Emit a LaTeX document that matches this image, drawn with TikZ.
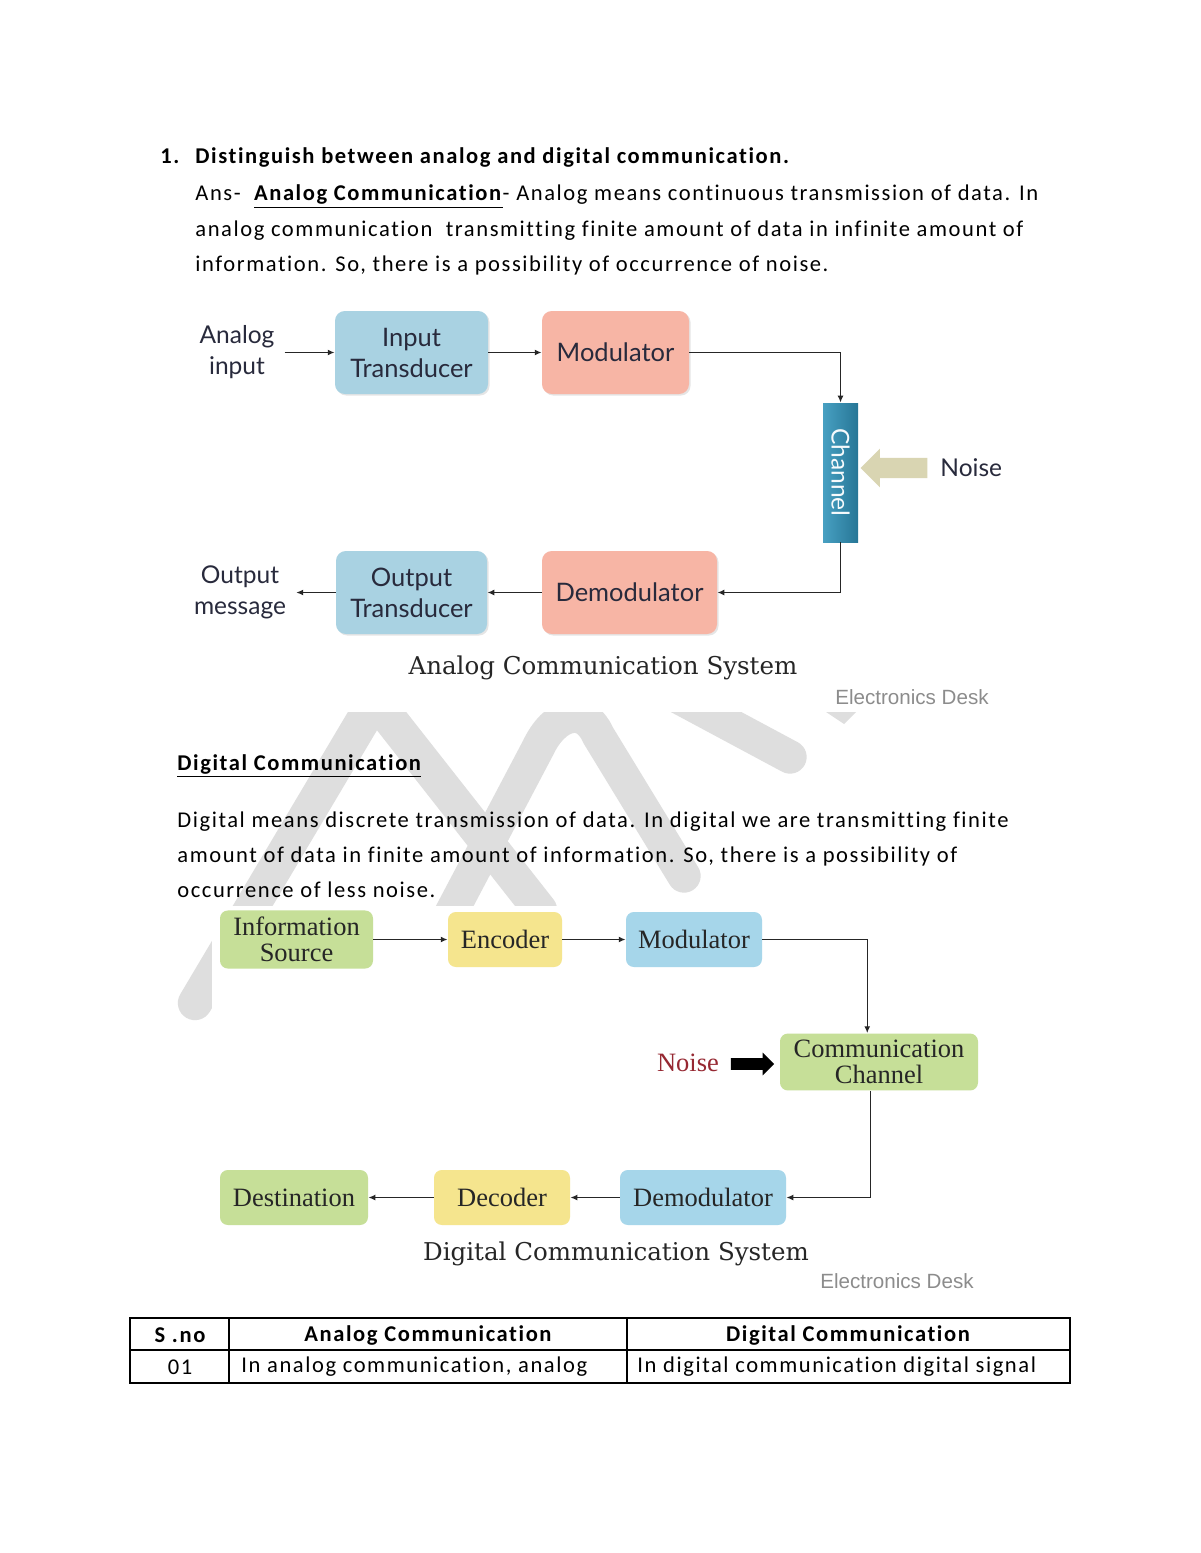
\documentclass[tikz,border=0pt]{standalone}
\usepackage{fontspec}
\setmainfont{Carlito}[LetterSpace=7, Ligatures=NoCommon]
\newfontfamily\gillfont{Lato}
\newfontfamily\cambfont{Liberation Serif}
\newfontfamily\slabfont{DejaVu Serif}
\newfontfamily\arialfont{Liberation Sans}
\usepackage{tikz}
\usetikzlibrary{shapes.arrows, arrows.meta, positioning, calc, shadows}
\definecolor{navytext}{RGB}{40,42,60}
\definecolor{tdblue}{RGB}{169,210,226}
\definecolor{salmon}{RGB}{247,181,165}
\definecolor{chanlight}{RGB}{72,160,194}
\definecolor{chandark}{RGB}{38,118,150}
\definecolor{noisebeige}{RGB}{217,213,178}
\definecolor{srcgreen}{RGB}{198,223,152}
\definecolor{encyellow}{RGB}{245,229,142}
\definecolor{modblue}{RGB}{166,214,234}
\definecolor{noisered}{RGB}{150,40,50}
\definecolor{deskgray}{RGB}{140,140,140}
\definecolor{wmgray}{RGB}{222,222,222}
\newcommand{\px}{0.51pt}

\begin{document}
\begin{tikzpicture}[x=0.51pt, y=-0.51pt,
    txt/.style={inner sep=0pt, anchor=base west, font=\fontsize{11.5}{13}\selectfont},
    abox/.style={rectangle, rounded corners=5pt, align=center, text=navytext,
      font=\gillfont\fontsize{13}{15.8}\selectfont, minimum height=83*\px,
      drop shadow={opacity=0.2, shadow xshift=0.8pt, shadow yshift=-0.8pt}},
    alabel/.style={align=center, text=navytext, font=\gillfont\fontsize{12.5}{15.8}\selectfont, inner sep=5pt},
    dbox/.style={rectangle, rounded corners=4pt, align=center, text=black!85,
      font=\cambfont\fontsize{13.5}{13.3}\selectfont, minimum height=55*\px},
    arrow/.style={-{Latex[length=3.5pt,width=3pt]}, line width=0.9pt, color=black!85},
    darrow/.style={-{Latex[length=3.5pt,width=3pt]}, line width=0.7pt, color=black!85},
    caption/.style={font=\slabfont\fontsize{12.5}{14}\selectfont, text=black!85},
    desk/.style={font=\arialfont\fontsize{10.5}{12}\selectfont, text=deskgray},
    wmark/.style={line width=17.5pt, color=wmgray, line cap=round, line join=round},
    cell/.style={inner sep=0pt, font=\fontsize{11.5}{13}\selectfont}
  ]
  \useasboundingbox[fill=white] (0,0) rectangle (1200,1553);

  % watermark, partly covered by the two figures
  \draw[wmark] (195,1003) -- (375,700) -- (540,910);
  \draw[wmark, line width=17pt] (450,915) -- (538,748) .. controls (555,712) and (585,705) .. (598,735) -- (684,876);
  \draw[wmark, line width=17pt] (665,690) -- (790,757);
  \fill[wmgray] (826,712) -- (856,712) -- (844,724) -- cycle;
  \fill[white] (188,296) rectangle (1012,712);
  \fill[white] (212,906) rectangle (990,1296);

  % question and analog text
  \node[txt, font=\bfseries\fontsize{11.5}{13}\selectfont] (qnum) at (160,164) {1.};
  \node[txt, font=\bfseries\fontsize{11.5}{13}\selectfont] (qline) at (195,164) {Distinguish between analog and digital communication.};
  \node[txt] (aline1) at (195,201) {Ans-\ \ \underline{\textbf{Analog Communication}}- Analog means continuous transmission of data. In};
  \node[txt] (aline2) at (195,236) {analog communication\ \ transmitting finite amount of data in infinite amount of};
  \node[txt] (aline3) at (195,271) {information. So, there is a possibility of occurrence of noise.};

  % analog communication system
  \node[abox, fill=tdblue, minimum width=153*\px] (inT) at (411.5,352.5) {Input\\Transducer};
  \node[abox, fill=salmon, minimum width=147*\px] (modA) at (615.5,352.5) {Modulator};
  \node[rectangle, minimum width=35*\px, minimum height=139*\px, left color=chanlight, right color=chandark,
    text=white!90!tdblue, font=\gillfont\fontsize{12.5}{14}\selectfont, inner sep=0pt] (chan) at (840.5,472.5) {\rotatebox{-90}{Channel}};
  \node[abox, fill=salmon, minimum width=175*\px] (demA) at (629.5,592.5) {Demodulator};
  \node[abox, fill=tdblue, minimum width=151*\px] (outT) at (411.5,592.5) {Output\\Transducer};
  \node[alabel] (ain) at (237,352.5) {Analog\\input};
  \node[alabel] (aout) at (240,592.5) {Output\\message};
  \node[single arrow, fill=noisebeige, shape border rotate=180, minimum height=34pt, inner sep=5pt,
    single arrow head extend=4.7pt] (noiseA) at (899,468) {};
  \node[alabel, anchor=west, inner sep=0pt] (noiseAtxt) at (940,468) {Noise};

  \draw[arrow] (ain.east) -- (inT.west);
  \draw[arrow] (inT.east) -- (modA.west);
  \draw[arrow] (modA.east) -| (chan.north);
  \draw[arrow] (chan.south) |- (demA.east);
  \draw[arrow] (demA.west) -- (outT.east);
  \draw[arrow] (outT.west) -- (aout.east);

  \node[caption] (acap) at (603,668) {Analog Communication System};
  \node[desk] (adesk) at (912,697) {Electronics Desk};

  % digital text
  \node[txt, font=\bfseries\fontsize{11.5}{13}\selectfont] (dhead) at (177,770) {\underline{Digital Communication}};
  \node[txt] (dline1) at (177,827) {Digital means discrete transmission of data. In digital we are transmitting finite};
  \node[txt] (dline2) at (177,862) {amount of data in finite amount of information. So, there is a possibility of};
  \node[txt] (dline3) at (177,897) {occurrence of less noise.};

  % digital communication system
  \node[dbox, fill=srcgreen, minimum width=153*\px] (infS) at (296.5,939.5) {Information\\Source};
  \node[dbox, fill=encyellow, minimum width=114*\px] (enc) at (505,939.5) {Encoder};
  \node[dbox, fill=modblue, minimum width=136*\px] (modD) at (694,939.5) {Modulator};
  \node[dbox, fill=srcgreen, minimum width=198*\px, minimum height=56*\px] (chanD) at (879,1062) {Communication\\Channel};
  \node[dbox, fill=modblue, minimum width=166*\px] (demD) at (703,1197.5) {Demodulator};
  \node[dbox, fill=encyellow, minimum width=136*\px] (dec) at (502,1197.5) {Decoder};
  \node[dbox, fill=srcgreen, minimum width=148*\px] (dest) at (294,1197.5) {Destination};
  \node[single arrow, fill=black, minimum height=22pt, inner sep=2.8pt,
    single arrow head extend=2.8pt] (noiseD) at (749.5,1064) {};
  \node[font=\cambfont\fontsize{13.5}{14}\selectfont, text=noisered] (noiseDtxt) at (688,1063) {Noise};

  \draw[darrow] (infS.east) -- (enc.west);
  \draw[darrow] (enc.east) -- (modD.west);
  \draw[darrow] (modD.east) -| ([xshift=-6pt]chanD.north);
  \draw[darrow] ([xshift=-4.5pt]chanD.south) |- (demD.east);
  \draw[darrow] (demD.west) -- (dec.east);
  \draw[darrow] (dec.west) -- (dest.east);

  \node[caption] (dcap) at (616,1254) {Digital Communication System};
  \node[desk] (ddesk) at (897,1281) {Electronics Desk};

  % comparison table
  \draw[line width=0.8pt] (130,1318) rectangle (1070,1383);
  \draw[line width=0.8pt] (130,1350) -- (1070,1350);
  \draw[line width=0.8pt] (229,1318) -- (229,1383);
  \draw[line width=0.8pt] (627,1318) -- (627,1383);
  \draw[line width=1.3pt] (130,1383) -- (1070,1383);
  \node[cell, font=\bfseries\fontsize{11.5}{13}\selectfont] (hsno) at (180,1335) {S .no};
  \node[cell, font=\bfseries\fontsize{11.5}{13}\selectfont] (hana) at (428,1335) {Analog Communication};
  \node[cell, font=\bfseries\fontsize{11.5}{13}\selectfont] (hdig) at (848,1335) {Digital Communication};
  \node[cell] (rsno) at (180,1367) {01};
  \node[cell, anchor=west] (rana) at (241,1367) {In analog communication, analog};
  \node[cell, anchor=west] (rdig) at (637,1367) {In digital communication digital signal};
\end{tikzpicture}
\end{document}
